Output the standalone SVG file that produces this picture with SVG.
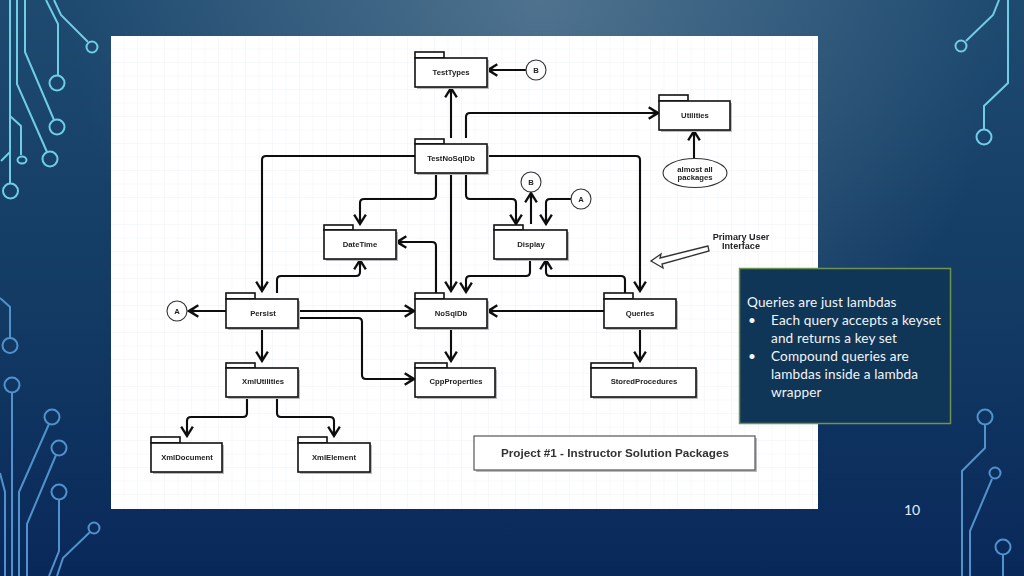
<svg xmlns="http://www.w3.org/2000/svg" width="1024" height="576" viewBox="0 0 1024 576">
<defs>
<linearGradient id="bg" x1="0" y1="0" x2="0" y2="1"><stop offset="0" stop-color="#1e4a70"/><stop offset="0.55" stop-color="#123a63"/><stop offset="1" stop-color="#09285a"/></linearGradient>
<radialGradient id="glow" gradientUnits="userSpaceOnUse" cx="540" cy="0" r="470"><stop offset="0" stop-color="#6f8ea3" stop-opacity="0.6"/><stop offset="1" stop-color="#6f8ea3" stop-opacity="0"/></radialGradient>
<pattern id="grid" width="13.5" height="13.5" patternUnits="userSpaceOnUse" x="111" y="36"><path d="M13.5 0V13.5H0" fill="none" stroke="#eef1f6" stroke-width="1"/></pattern>
<marker id="arr" markerUnits="userSpaceOnUse" markerWidth="14" markerHeight="14" refX="10" refY="6" orient="auto" viewBox="0 0 12 12"><path d="M2 1 L10 6 L2 11 M10 6 L5 6" fill="none" stroke="#111" stroke-width="2"/></marker>
<filter id="soft" x="-2%" y="-2%" width="104%" height="104%"><feGaussianBlur stdDeviation="0.35"/></filter>
</defs>
<style>
.cy{fill:none;stroke:#6fcde6;stroke-width:2}
.bl{fill:none;stroke:#5092cc;stroke-width:2}
.c{fill:none;stroke:#111;stroke-width:2.1;marker-end:url(#arr)}
.sh{fill:#b8babc}
.b{fill:#fff;stroke:#111;stroke-width:1.6}
.t{font:bold 7.7px "Liberation Sans",Arial,sans-serif;fill:#222;text-anchor:middle}
.o{fill:#fff;stroke:#333;stroke-width:1.1}
.p{font:13.6px Lato,"Open Sans",sans-serif;fill:#f2f6f8;letter-spacing:.13px}
.u{font:bold 9.1px "Liberation Sans",Arial,sans-serif;fill:#222;text-anchor:middle}
</style>
<rect width="1024" height="576" fill="url(#bg)"/>
<rect width="1024" height="576" fill="url(#glow)"/>
<g id="circuits">
<path class="cy" d="M10 0V183M10 116L21 126V155M1 161L10 152M17 0V84L47 152M25 0V52L54 120M46 0L58 24V76M54 0L61 15L88 42"/>
<circle class="cy" cx="10.500" cy="191" r="7.500"/><ellipse class="cy" cx="22" cy="160" rx="4.500" ry="3.500"/><circle class="cy" cx="50" cy="159" r="7.500"/><circle class="cy" cx="57" cy="127" r="7.500"/><circle class="cy" cx="57" cy="83" r="7.500"/><circle class="cy" cx="92" cy="47" r="5.500"/>
<path class="cy" d="M999 0L993 15L966 41M1008 0V83L984 106V130"/>
<circle class="cy" cx="961" cy="46" r="5.500"/><circle class="cy" cx="984" cy="137" r="7.500"/>
<path class="bl" d="M0 298L10 307V338M12 392V576M49 424L19 492V576M56 455L27 524V576M59 500V551L49 576M90 532L63 558L57 576M0 473L5 492V576"/>
<circle class="bl" cx="10" cy="345.500" r="7.500"/><circle class="bl" cx="12" cy="385" r="7.500"/><circle class="bl" cx="52" cy="417" r="7.500"/><circle class="bl" cx="59" cy="448" r="7.500"/><circle class="bl" cx="59" cy="492" r="7.500"/><circle class="bl" cx="94" cy="528" r="5.500"/>
<path class="bl" d="M985 425V448L962 471V576M992 479L970 531V576M1003 555V576"/>
<circle class="bl" cx="985" cy="417" r="7.500"/><circle class="bl" cx="995" cy="473" r="5.500"/><circle class="bl" cx="1003" cy="547" r="7.500"/>
</g>
<rect x="111" y="36" width="707" height="473" fill="#fff"/>
<rect x="111" y="36" width="707" height="473" fill="url(#grid)"/>
<g filter="url(#soft)">
<g id="connectors">
<path class="c" d="M451 138V88"/>
<path class="c" d="M466 138V117Q466 113 470 113H658"/>
<path class="c" d="M415 156H266Q262 156 262 160V291"/>
<path class="c" d="M436 173V195Q436 199 432 199H364Q360 199 360 203V224"/>
<path class="c" d="M451 173V291"/>
<path class="c" d="M466 173V195Q466 199 470 199H512Q516 199 516 203V224"/>
<path class="c" d="M487 156H636Q640 156 640 160V291"/>
<path class="c" d="M526 70H488"/>
<path class="c" d="M694 158V131"/>
<path class="c" d="M531 224V193"/>
<path class="c" d="M571 199H550Q546 199 546 203V224"/>
<path class="c" d="M436 293V246Q436 242 432 242H397"/>
<path class="c" d="M277 293V280Q277 276 281 276H356Q360 276 360 272V260"/>
<path class="c" d="M530 259V272Q530 276 526 276H470Q466 276 466 280V292"/>
<path class="c" d="M625 293V280Q625 276 621 276H550Q546 276 546 272V260"/>
<path class="c" d="M226 311H189"/>
<path class="c" d="M298 311H414"/>
<path class="c" d="M298 318H358Q362 318 362 322V375Q362 379 366 379H414"/>
<path class="c" d="M262 328V361"/>
<path class="c" d="M451 328V361"/>
<path class="c" d="M604 311H488"/>
<path class="c" d="M640 328V361"/>
<path class="c" d="M247 397V413Q247 417 243 417H191Q187 417 187 421V436"/>
<path class="c" d="M277 397V413Q277 417 281 417H330Q334 417 334 421V436"/>
</g>
<g id="TestTypes"><rect class="sh" x="417" y="60" width="72" height="29"/><rect class="b" x="415" y="52" width="29" height="6"/><rect class="b" x="415" y="58" width="72" height="29"/><text class="t" x="451" y="74.500">TestTypes</text></g>
<g id="TestNoSqlDb"><rect class="sh" x="417" y="146" width="72" height="29"/><rect class="b" x="415" y="139" width="29" height="5"/><rect class="b" x="415" y="144" width="72" height="29"/><text class="t" x="451" y="160.500">TestNoSqlDb</text></g>
<g id="DateTime"><rect class="sh" x="326" y="232" width="72" height="29"/><rect class="b" x="324" y="225" width="29" height="5"/><rect class="b" x="324" y="230" width="72" height="29"/><text class="t" x="360" y="246.500">DateTime</text></g>
<g id="Display"><rect class="sh" x="496" y="232" width="73" height="29"/><rect class="b" x="494" y="225" width="29" height="5"/><rect class="b" x="494" y="230" width="73" height="29"/><text class="t" x="531" y="246.500">Display</text></g>
<g id="Utilities"><rect class="sh" x="661" y="103" width="71" height="29"/><rect class="b" x="659" y="95" width="29" height="6"/><rect class="b" x="659" y="101" width="71" height="29"/><text class="t" x="695" y="117.500">Utilities</text></g>
<g id="Persist"><rect class="sh" x="228" y="301" width="72" height="29"/><rect class="b" x="226" y="293" width="29" height="6"/><rect class="b" x="226" y="299" width="72" height="29"/><text class="t" x="263" y="315.500">Persist</text></g>
<g id="NoSqlDb"><rect class="sh" x="417" y="301" width="72" height="29"/><rect class="b" x="415" y="293" width="29" height="6"/><rect class="b" x="415" y="299" width="72" height="29"/><text class="t" x="451" y="315.500">NoSqlDb</text></g>
<g id="Queries"><rect class="sh" x="606" y="301" width="72" height="29"/><rect class="b" x="604" y="293" width="29" height="6"/><rect class="b" x="604" y="299" width="72" height="29"/><text class="t" x="640" y="315.500">Queries</text></g>
<g id="XmlUtilities"><rect class="sh" x="228" y="370" width="72" height="29"/><rect class="b" x="226" y="363" width="29" height="5"/><rect class="b" x="226" y="368" width="72" height="29"/><text class="t" x="263" y="384">XmlUtilities</text></g>
<g id="CppProperties"><rect class="sh" x="417" y="370" width="80" height="29"/><rect class="b" x="415" y="363" width="32" height="5"/><rect class="b" x="415" y="368" width="80" height="29"/><text class="t" x="456" y="384">CppProperties</text></g>
<g id="StoredProcedures"><rect class="sh" x="593" y="370" width="105" height="29"/><rect class="b" x="591" y="363" width="42" height="5"/><rect class="b" x="591" y="368" width="105" height="29"/><text class="t" x="644" y="384">StoredProcedures</text></g>
<g id="XmlDocument"><rect class="sh" x="153" y="445" width="71" height="29"/><rect class="b" x="151" y="437" width="29" height="6"/><rect class="b" x="151" y="443" width="71" height="29"/><text class="t" x="187" y="459.500">XmlDocument</text></g>
<g id="XmlElement"><rect class="sh" x="300" y="445" width="72" height="29"/><rect class="b" x="298" y="437" width="29" height="6"/><rect class="b" x="298" y="443" width="72" height="29"/><text class="t" x="334" y="459.500">XmlElement</text></g>
<g id="refB1"><circle class="o" cx="536" cy="70" r="10"/><text class="t" x="536" y="73">B</text></g>
<g id="refB2"><circle class="o" cx="531" cy="182" r="10"/><text class="t" x="531" y="185">B</text></g>
<g id="refA1"><circle class="o" cx="581" cy="199" r="10"/><text class="t" x="581" y="202">A</text></g>
<g id="refA2"><circle class="o" cx="177" cy="311" r="10"/><text class="t" x="177" y="314">A</text></g>
<g id="almostAll"><ellipse class="o" cx="695" cy="173" rx="32" ry="14.500"/><text class="t" x="695" y="172">almost all</text><text class="t" x="695" y="180">packages</text></g>
<g id="primaryUI"><path d="M708 246L660 258L661 254L651 261L663 268L662 264L709 251Z" fill="#fff" stroke="#333" stroke-width="1.300"/><text class="u" x="741" y="240">Primary User</text><text class="u" x="741" y="249">Interface</text></g>
<g id="title"><rect x="476" y="438" width="281" height="34" fill="#b8babc"/><rect x="474" y="436" width="281" height="34" fill="#fff" stroke="#555" stroke-width="1.200"/><text x="615" y="456.500" text-anchor="middle" style="font:bold 11.700px 'Liberation Sans',Arial,sans-serif;fill:#333">Project #1 - Instructor Solution Packages</text></g>
</g>
<g id="panel">
<rect x="739.500" y="268.500" width="211" height="155" fill="#0f3557" stroke="#6f9350" stroke-width="1.500"/>
<text class="p" x="747" y="307">Queries are just lambdas</text>
<text class="p" x="748" y="325">•</text><text class="p" x="771" y="325">Each query accepts a keyset</text>
<text class="p" x="771" y="343">and returns a key set</text>
<text class="p" x="748" y="361">•</text><text class="p" x="771" y="361">Compound queries are</text>
<text class="p" x="771" y="379">lambdas inside a lambda</text>
<text class="p" x="771" y="397">wrapper</text>
</g>
<text x="904" y="515" style="font:14px Lato,sans-serif;fill:#e6eef4">10</text>
</svg>
